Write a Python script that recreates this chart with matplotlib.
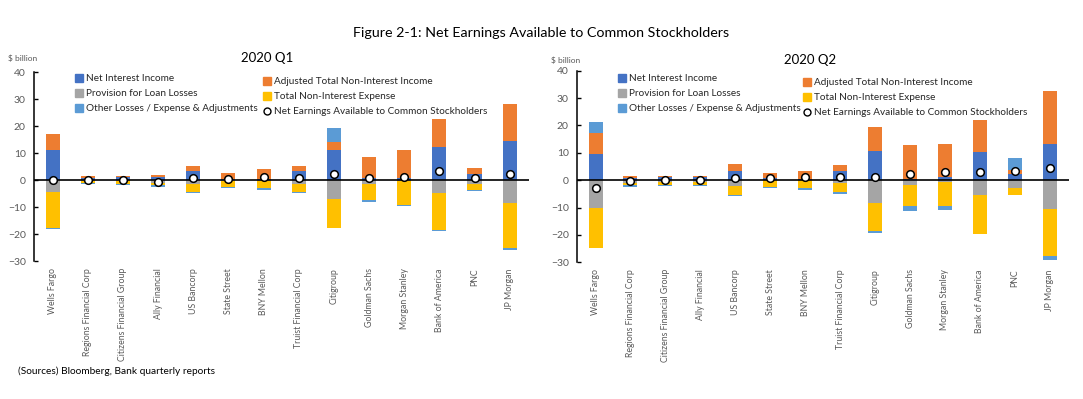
"""
Figure 2-1: net earnings available to common stockholders, 2020 Q1 vs Q2.
Stacked income/expense components per bank with net earnings markers.
"""

import matplotlib

matplotlib.use("Agg")
import matplotlib.pyplot as plt
from matplotlib.lines import Line2D
from matplotlib.patches import Patch

plt.rcParams["font.family"] = ["Lato", "DejaVu Sans"]

banks = [
    "Wells Fargo", "Regions Financial Corp", "Citizens Financial Group",
    "Ally Financial", "US Bancorp", "State Street", "BNY Mellon",
    "Truist Financial Corp", "Citigroup", "Goldman Sachs", "Morgan Stanley",
    "Bank of America", "PNC", "JP Morgan",
]

# $ billion
nii_q1 = [11.2, 0.9, 1.2, 1.1, 3.3, 0.5, 0.4, 3.6, 11.2, 1.0, 0.9, 12.2, 2.4, 14.4]
nonint_q1 = [6.0, 0.85, 0.55, 1.0, 2.1, 2.25, 3.9, 1.8, 3.0, 7.8, 10.3, 10.5, 2.2, 13.9]
prov_q1 = [-4.3, -0.1, -0.3, -0.9, -1.2, -0.1, -0.1, -1.2, -6.9, -1.2, -0.4, -4.7, -1.4, -8.5]
exp_q1 = [-13.4, -1.0, -1.2, -1.0, -3.0, -2.3, -2.9, -3.1, -10.6, -6.1, -8.6, -13.7, -2.2, -16.6]
other_q1 = [-0.3, -0.4, -0.3, -0.4, -0.4, -0.4, -0.6, -0.4, 5.2, -0.7, -0.5, -0.4, -0.4, -0.7]
net_q1 = [0.0, 0.0, 0.0, -0.6, 1.0, 0.6, 1.2, 0.9, 2.2, 0.9, 1.3, 3.5, 1.0, 2.3]

nii_q2 = [9.5, 0.85, 1.0, 1.0, 3.2, 0.7, 0.4, 3.2, 10.7, 0.4, 1.1, 10.2, 2.1, 13.1]
nonint_q2 = [7.8, 0.6, 0.45, 0.45, 2.6, 2.1, 3.1, 2.5, 8.8, 12.5, 12.0, 11.7, 1.5, 19.4]
prov_q2 = [-10.2, -0.9, -0.7, -0.6, -1.95, -0.1, -0.1, -1.2, -8.3, -1.7, -0.5, -5.5, -2.9, -10.6]
exp_q2 = [-14.6, -0.7, -0.9, -1.0, -3.35, -2.45, -2.9, -3.2, -10.2, -7.8, -9.0, -14.0, -2.45, -17.1]
other_q2 = [3.9, -0.8, -0.35, -0.35, -0.4, -0.35, -0.45, -0.8, -0.7, -1.7, -1.4, -0.3, 4.5, -1.4]
net_q2 = [-3.0, -0.3, 0.2, 0.2, 0.7, 0.7, 1.0, 1.0, 1.0, 2.2, 2.9, 2.9, 3.4, 4.4]

C_NII = "#4472C4"
C_NONINT = "#ED7D31"
C_PROV = "#A5A5A5"
C_EXP = "#FFC000"
C_OTHER = "#5B9BD5"
C_TEXT = "#595959"

W, H = 1083, 399


def draw_panel(ax, nii, nonint, prov, exp, other, net):
    xs = list(range(len(banks)))
    bw = 0.4
    ax.bar(xs, nii, bw, color=C_NII, zorder=2)
    ax.bar(xs, nonint, bw, bottom=nii, color=C_NONINT, zorder=2)
    ax.bar(xs, prov, bw, color=C_PROV, zorder=2)
    ax.bar(xs, exp, bw, bottom=prov, color=C_EXP, zorder=2)
    # other adjustments sit on top of whichever side they fall on
    bottoms = [
        (a + b) if o >= 0 else (p + e)
        for a, b, p, e, o in zip(nii, nonint, prov, exp, other)
    ]
    ax.bar(xs, other, bw, bottom=bottoms, color=C_OTHER, zorder=2)
    ax.axhline(0, color="black", lw=1.2, zorder=3)
    ax.plot(xs, net, "o", ms=5.5, mfc="white", mec="black", mew=1.1, ls="none", zorder=4)

    ax.set_xlim(-0.53, 13.55)
    ax.set_ylim(-30, 40)
    ax.set_yticks(range(-30, 41, 10))
    ax.set_xticks(xs)
    ax.set_xticklabels(banks, rotation=90, fontsize=6.3, color=C_TEXT)
    ax.tick_params(axis="x", length=0, pad=5)
    ax.tick_params(axis="y", direction="in", length=3, width=1, pad=6,
                   labelsize=7.5, labelcolor=C_TEXT)
    for s in ("top", "right", "bottom"):
        ax.spines[s].set_visible(False)
    ax.spines["left"].set_linewidth(1.1)


def add_legends(fig, x_left, y_left, x_right, y_right):
    kw = dict(frameon=False, loc="upper left", fontsize=7.2, handlelength=0.78,
              handleheight=0.78, handletextpad=0.35, labelspacing=0.58,
              borderpad=0, borderaxespad=0, labelcolor="#262626")
    h1 = [Patch(color=C_NII), Patch(color=C_PROV), Patch(color=C_OTHER)]
    l1 = ["Net Interest Income", "Provision for Loan Losses",
          "Other Losses / Expense & Adjustments"]
    h2 = [Patch(color=C_NONINT), Patch(color=C_EXP),
          Line2D([], [], marker="o", ls="none", ms=5, mfc="white", mec="black", mew=1)]
    l2 = ["Adjusted Total Non-Interest Income", "Total Non-Interest Expense",
          "Net Earnings Available to Common Stockholders"]
    fig.legend(h1, l1, bbox_to_anchor=(x_left / W, 1 - y_left / H), **kw)
    fig.legend(h2, l2, bbox_to_anchor=(x_right / W, 1 - y_right / H), **kw)


fig = plt.figure(figsize=(W / 100, H / 100), dpi=100)

ax1 = fig.add_axes([34 / W, 1 - 261.3 / H, 495 / W, 189 / H])
draw_panel(ax1, nii_q1, nonint_q1, prov_q1, exp_q1, other_q1, net_q1)
ax2 = fig.add_axes([577 / W, 1 - 262.3 / H, 492 / W, 191.6 / H])
draw_panel(ax2, nii_q2, nonint_q2, prov_q2, exp_q2, other_q2, net_q2)

add_legends(fig, 75, 74, 263, 77)
add_legends(fig, 618, 74, 803, 78)

fig.text(0.5, 1 - 33 / H, "Figure 2-1: Net Earnings Available to Common Stockholders",
         ha="center", va="center", fontsize=10.3, color="black")
fig.text(267 / W, 1 - 58 / H, "2020 Q1", ha="center", va="center", fontsize=9.5)
fig.text(810 / W, 1 - 60 / H, "2020 Q2", ha="center", va="center", fontsize=9.5)
fig.text(8 / W, 1 - 58 / H, "$ billion", ha="left", va="center", fontsize=6, color=C_TEXT)
fig.text(551 / W, 1 - 60 / H, "$ billion", ha="left", va="center", fontsize=6, color=C_TEXT)
fig.text(18 / W, 1 - 371 / H, "(Sources) Bloomberg, Bank quarterly reports",
         ha="left", va="center", fontsize=7.3, color="black")

fig.savefig("out.png", dpi=100)
